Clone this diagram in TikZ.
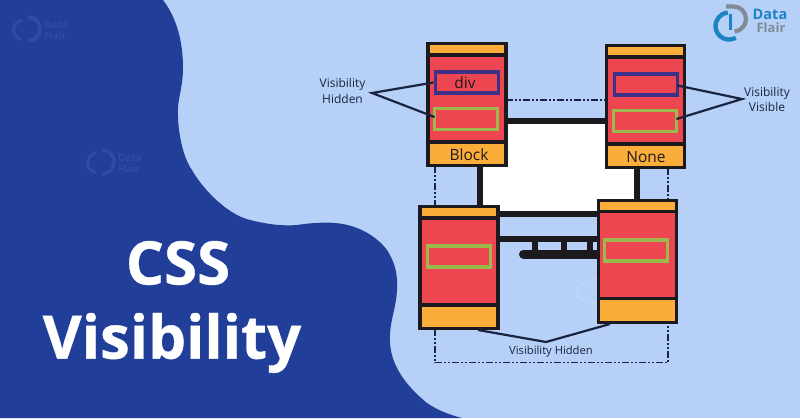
\documentclass[tikz,border=0pt]{standalone}
\usepackage{fontspec}
\setmainfont{Open Sans}
\newfontfamily\titlefont[BoldFeatures={FakeBold=0.6}]{Open Sans}
\definecolor{bgblue}{HTML}{B7D0F8}
\definecolor{navy}{HTML}{213F99}
\definecolor{redf}{HTML}{EE4650}
\definecolor{orangef}{HTML}{FBAD3A}
\definecolor{ink}{HTML}{1C1A1E}
\definecolor{leader}{HTML}{1A2440}
\definecolor{innerblue}{HTML}{3C3088}
\definecolor{innergreen}{HTML}{9DB84C}
\definecolor{logoblue}{HTML}{1D83C4}
\definecolor{logogrey}{HTML}{808A94}
\pgfdeclarelayer{under}
\pgfsetlayers{under,main}
\tikzset{
  boxbase/.style={anchor=north west,inner sep=0pt,outer sep=0pt},
  frame/.style={boxbase,draw=ink,line width=3.8pt,fill=orangef,minimum width=78pt,minimum height=122pt},
  redband/.style={boxbase,draw=ink,line width=3.8pt,fill=redf,minimum width=78pt,minimum height=87pt},
  innerb/.style={boxbase,draw=innerblue,line width=3.2pt,minimum width=63pt,minimum height=21pt},
  innerg/.style={boxbase,draw=innergreen,line width=3.2pt,minimum width=63pt,minimum height=21pt},
  thickbar/.style={draw=ink,line width=5.5pt},
  dashdot/.style={draw=leader,line width=1.7pt,dash pattern=on 7pt off 2pt on 2pt off 2pt on 2pt off 2pt},
  leadline/.style={draw=leader,line width=2.2pt,line join=miter},
  lab/.style={text=leader,font=\fontsize{12}{15.5}\selectfont,align=center,inner sep=0pt},
  labwide/.style={text=leader,font=\fontsize{11.2}{13}\selectfont,inner sep=0pt},
  boxlab/.style={text=ink,font=\fontsize{15.5}{18}\selectfont,inner sep=0pt},
  titletext/.style={text=white,inner sep=0pt,font=\titlefont\bfseries\fontsize{60}{62}\selectfont}
}
\newcommand{\wmark}[3]{%
  \begin{scope}[shift={(#1,#2)},opacity=#3]
    \draw[line width=3pt,white] (-4,-10) arc[start angle=-100,end angle=-260,radius=10];
    \draw[line width=3.5pt,white] (2,-13) arc[start angle=-90,end angle=90,radius=12];
    \node[white,inner sep=0pt,anchor=west,font=\bfseries\fontsize{10}{11}\selectfont] (#1wa) at (18,-5) {Data};
    \node[white,inner sep=0pt,anchor=west,font=\bfseries\fontsize{10}{11}\selectfont] (#1wb) at (18,6) {Flair};
  \end{scope}}
\begin{document}
\begin{tikzpicture}[x=1pt,y=-1pt]
\useasboundingbox (0,0) rectangle (800,418);
% boxes
\node[frame] (A) at (428,43.5) {};
\node[redband] (Ar) at (428,55) {};
\node[innerb] (Ab) at (435.5,72) {};
\node[innerg] (Ag) at (434.5,108.5) {};
\node[boxlab] (divt) at (465,82.5) {div};
\node[boxlab] (At) at (469,155) {Block};
\node[frame] (B) at (606.5,45.5) {};
\node[redband] (Br) at (606.5,57) {};
\node[innerb] (Bb) at (614.5,74) {};
\node[innerg] (Bg) at (613.5,110.5) {};
\node[boxlab] (Bt) at (646,157) {None};
\node[frame] (C) at (420,206.5) {};
\node[redband] (Cr) at (420,218) {};
\node[innerg] (Cg) at (427.5,246) {};
\node[frame] (D) at (598.5,200.5) {};
\node[redband] (Dr) at (598.5,211.5) {};
\node[innerg] (Dg) at (604.5,240) {};
% reference rows / columns
\coordinate (rowdash) at (0,100);
\coordinate (rowtop) at (0,121);
\coordinate (rowbot) at (0,214);
\coordinate (rowstand) at (0,239);
\coordinate (rowfoot) at (0,254);
\coordinate (rowfloor) at (0,362.5);
\coordinate (colL) at (435,0);
\coordinate (colR) at (668,0);
\coordinate (colbarL) at (479.5,0);
\coordinate (colbarR) at (637,0);
\coordinate (footend) at (523.5,254);
\begin{pgfonlayer}{under}
\fill[bgblue] (0,0) rectangle (800,418);
\fill[navy] (0,0) -- (163,0)
  .. controls (176,17) and (183,40) .. (183,68)
  .. controls (183,85) and (179,95) .. (178,107)
  .. controls (177,130) and (183,158) .. (192,170)
  .. controls (200,185) and (225,214) .. (250,220)
  .. controls (270,225) and (285,226) .. (297,225)
  .. controls (310,223) and (325,222) .. (335,223)
  .. controls (360,225) and (378,238) .. (387,250)
  .. controls (395,262) and (398,275) .. (397,290)
  .. controls (396,310) and (389,322) .. (390,342)
  .. controls (391,365) and (405,385) .. (427,403)
  .. controls (437,410) and (450,415) .. (462,418)
  -- (0,418) -- cycle;
\wmark{26}{30}{0.07}
\wmark{100}{163}{0.07}
\wmark{590}{292}{0.12}
% white screen
\fill[white] (480,121) rectangle (637,214);
% thick bars
\draw[thickbar] (A.east |- rowtop) -- (B.west |- rowtop);
\draw[thickbar,line width=6pt] (colbarL |- A.south) -- (colbarL |- C.north);
\draw[thickbar,line width=6pt] (colbarR |- B.south) -- (colbarR |- D.north);
\draw[thickbar] (C.east |- rowbot) -- (D.west |- rowbot);
\draw[thickbar] (C.east |- rowstand) -- (D.west |- rowstand);
\draw[ink,line width=9pt,line cap=round] (footend) -- (D.west |- rowfoot);
\foreach \x/\n in {535/a,564/b,590/c}{
  \coordinate (s\n) at (\x,239); \coordinate (f\n) at (\x,254);
  \draw[thickbar] (s\n) -- (f\n);
}
% dash-dot connectors
\draw[dashdot] (A.east |- rowdash) -- (B.west |- rowdash);
\draw[dashdot] (colL |- A.south) -- (colL |- C.north);
\draw[dashdot] (colR |- B.south) -- (colR |- D.north);
\draw[dashdot] (colL |- C.south) -- (colL |- rowfloor) -- (colR |- rowfloor) -- (colR |- D.south);
\end{pgfonlayer}
% logo
\draw[line width=4.4pt,logoblue] (727.8,12.6) arc[start angle=-95,end angle=-300,radius=13.5];
\draw[line width=3.4pt,logoblue] (730.5,14) -- (730.5,30);
\draw[line width=4.2pt,logogrey] (726,6.5) -- (733.5,6.5) arc[start angle=-90,end angle=85,radius=12.5];
\node[inner sep=0pt,text=logoblue,font=\bfseries\fontsize{14.5}{16}\selectfont] (logodata) at (770,14.5) {Data};
\node[inner sep=0pt,text=logogrey,font=\bfseries\fontsize{13}{14}\selectfont] (logoflair) at (771,27.5) {Flair};
% labels + leaders
\node[lab] (vh) at (342.5,91) {Visibility\\Hidden};
\node[lab] (vv) at (767,99.5) {Visibility\\Visible};
\node[labwide] (vb) at (551,352) {Visibility Hidden};
\coordinate (hl) at (372,93); \coordinate (hr) at (742,99); \coordinate (hb) at (546,342);
\draw[leadline] ([xshift=-2pt]Ab.west) -- (hl) -- ([yshift=2pt]Ag.west);
\draw[leadline] ([yshift=-1pt]Bb.east) -- (hr) -- ([yshift=2pt]Bg.east);
\draw[leadline] ([xshift=19pt,yshift=-1.5pt]C.south) -- (hb) -- ([xshift=-27.5pt,yshift=-1.5pt]D.south);
% title
\node[titletext] (t1) at (178,263) {CSS};
\node[titletext] (t2) at (172,343) {Visibility};
\end{tikzpicture}
\end{document}
